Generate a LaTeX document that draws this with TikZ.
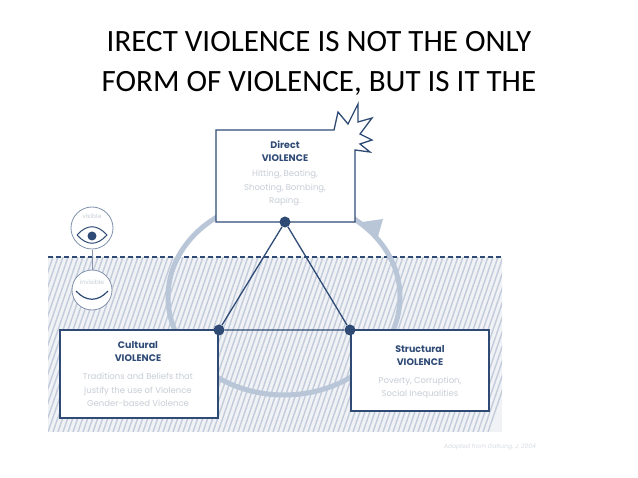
\documentclass[tikz,border=0pt]{standalone}
\usepackage{fontspec}
\setmainfont{Carlito}
\newfontfamily\boxfont{Poppins}
\usetikzlibrary{arrows.meta}
\definecolor{navy}{HTML}{2E4A75}
\definecolor{ring}{HTML}{B9C6D8}
\definecolor{hatch}{HTML}{C3CCDA}
\definecolor{light}{HTML}{C8CDD6}
\tikzset{
 vbox/.style={draw=navy,line width=1.3pt,fill=white},
 dot/.style={circle,fill=navy,inner sep=0pt,minimum size=11pt},
 lbl/.style={font=\boxfont\bfseries\fontsize{9.5}{13}\selectfont,text=navy,align=center},
 sub/.style={font=\boxfont\fontsize{8.5}{13.5}\selectfont,text=light,align=center},
 eye/.style={circle,draw=navy!60,line width=0.8pt,minimum size=42pt,fill=white}
}
\begin{document}
\begin{tikzpicture}[x=1pt,y=-1pt]
\useasboundingbox (0,0) rectangle (638,478);
\fill[white] (0,0) rectangle (638,478);
% title
\node[font=\fontsize{31}{40}\selectfont,align=center] (title) at (319,63) {IRECT VIOLENCE IS NOT THE ONLY\\FORM OF VIOLENCE, BUT IS IT THE};
% hatched ground
\begin{scope}
\clip (48,257) rectangle (502,432);
\fill[hatch!25] (48,257) rectangle (502,432);
\foreach \i in {0,...,100} {\draw[hatch,line width=1.4pt] (48+\i*5-60,432) -- (48+\i*5,257);}
\end{scope}
\draw[navy,line width=1.2pt,dash pattern=on 5pt off 3pt] (48,257) -- (502,257);
% ring
\draw[ring,line width=5pt] (284,297) ellipse [x radius=116, y radius=98];
\fill[ring] (362,222) -- (383,219) -- (377,240) -- cycle;
% eyes
\draw[navy!60,line width=0.8pt] (92,250) -- (92,270);
\node[eye] (vis) at (92,228) {};
\node[font=\boxfont\fontsize{6}{6}\selectfont,text=light] (vist) at (92,216) {visible};
\fill[navy] (92,236) circle (4.5pt);
\draw[navy,line width=1pt] (77,235) .. controls (87,224) and (97,224) .. (107,235) .. controls (97,246) and (87,246) .. (77,235);
\node[eye,minimum size=40pt] (inv) at (92,290) {};
\node[font=\boxfont\fontsize{6}{6}\selectfont,text=light] (invt) at (92,282) {invisible};
\draw[navy,line width=1.2pt] (76,291) .. controls (86,302) and (98,302) .. (108,291);
% boxes
\draw[vbox] (216,130) -- (334,130) -- (338,112) -- (348,124) -- (358,104) -- (358,122) -- (372,118) -- (360,134) -- (372,140) -- (360,144) -- (370,152) -- (355,150) -- (355,222) -- (216,222) -- cycle;
\node[lbl] (dl) at (285,151) {Direct\\VIOLENCE};
\node[sub] (ds) at (285,188) {Hitting, Beating,\\Shooting, Bombing,\\Raping.};
\draw[vbox] (60,330) rectangle (218,418);
\node[lbl] (cl) at (138,352) {Cultural\\VIOLENCE};
\node[sub] (cs) at (138,390) {Traditions and Beliefs that\\justify the use of Violence\\Gender-based Violence};
\draw[vbox] (351,330) rectangle (489,411);
\node[lbl] (sl) at (420,356) {Structural\\VIOLENCE};
\node[sub] (ss) at (420,388) {Poverty, Corruption,\\Social Inequalities};
% triangle
\node[dot] (top) at (285,222) {};
\node[dot] (left) at (219,330) {};
\node[dot] (right) at (350,330) {};
\draw[navy,line width=1.3pt] (top) -- (left) -- (right) -- (top);
% credit
\node[font=\boxfont\itshape\fontsize{6}{6}\selectfont,text=light!70] (cr) at (490,447) {Adapted from Galtung, J, 2004};
\end{tikzpicture}
\end{document}
